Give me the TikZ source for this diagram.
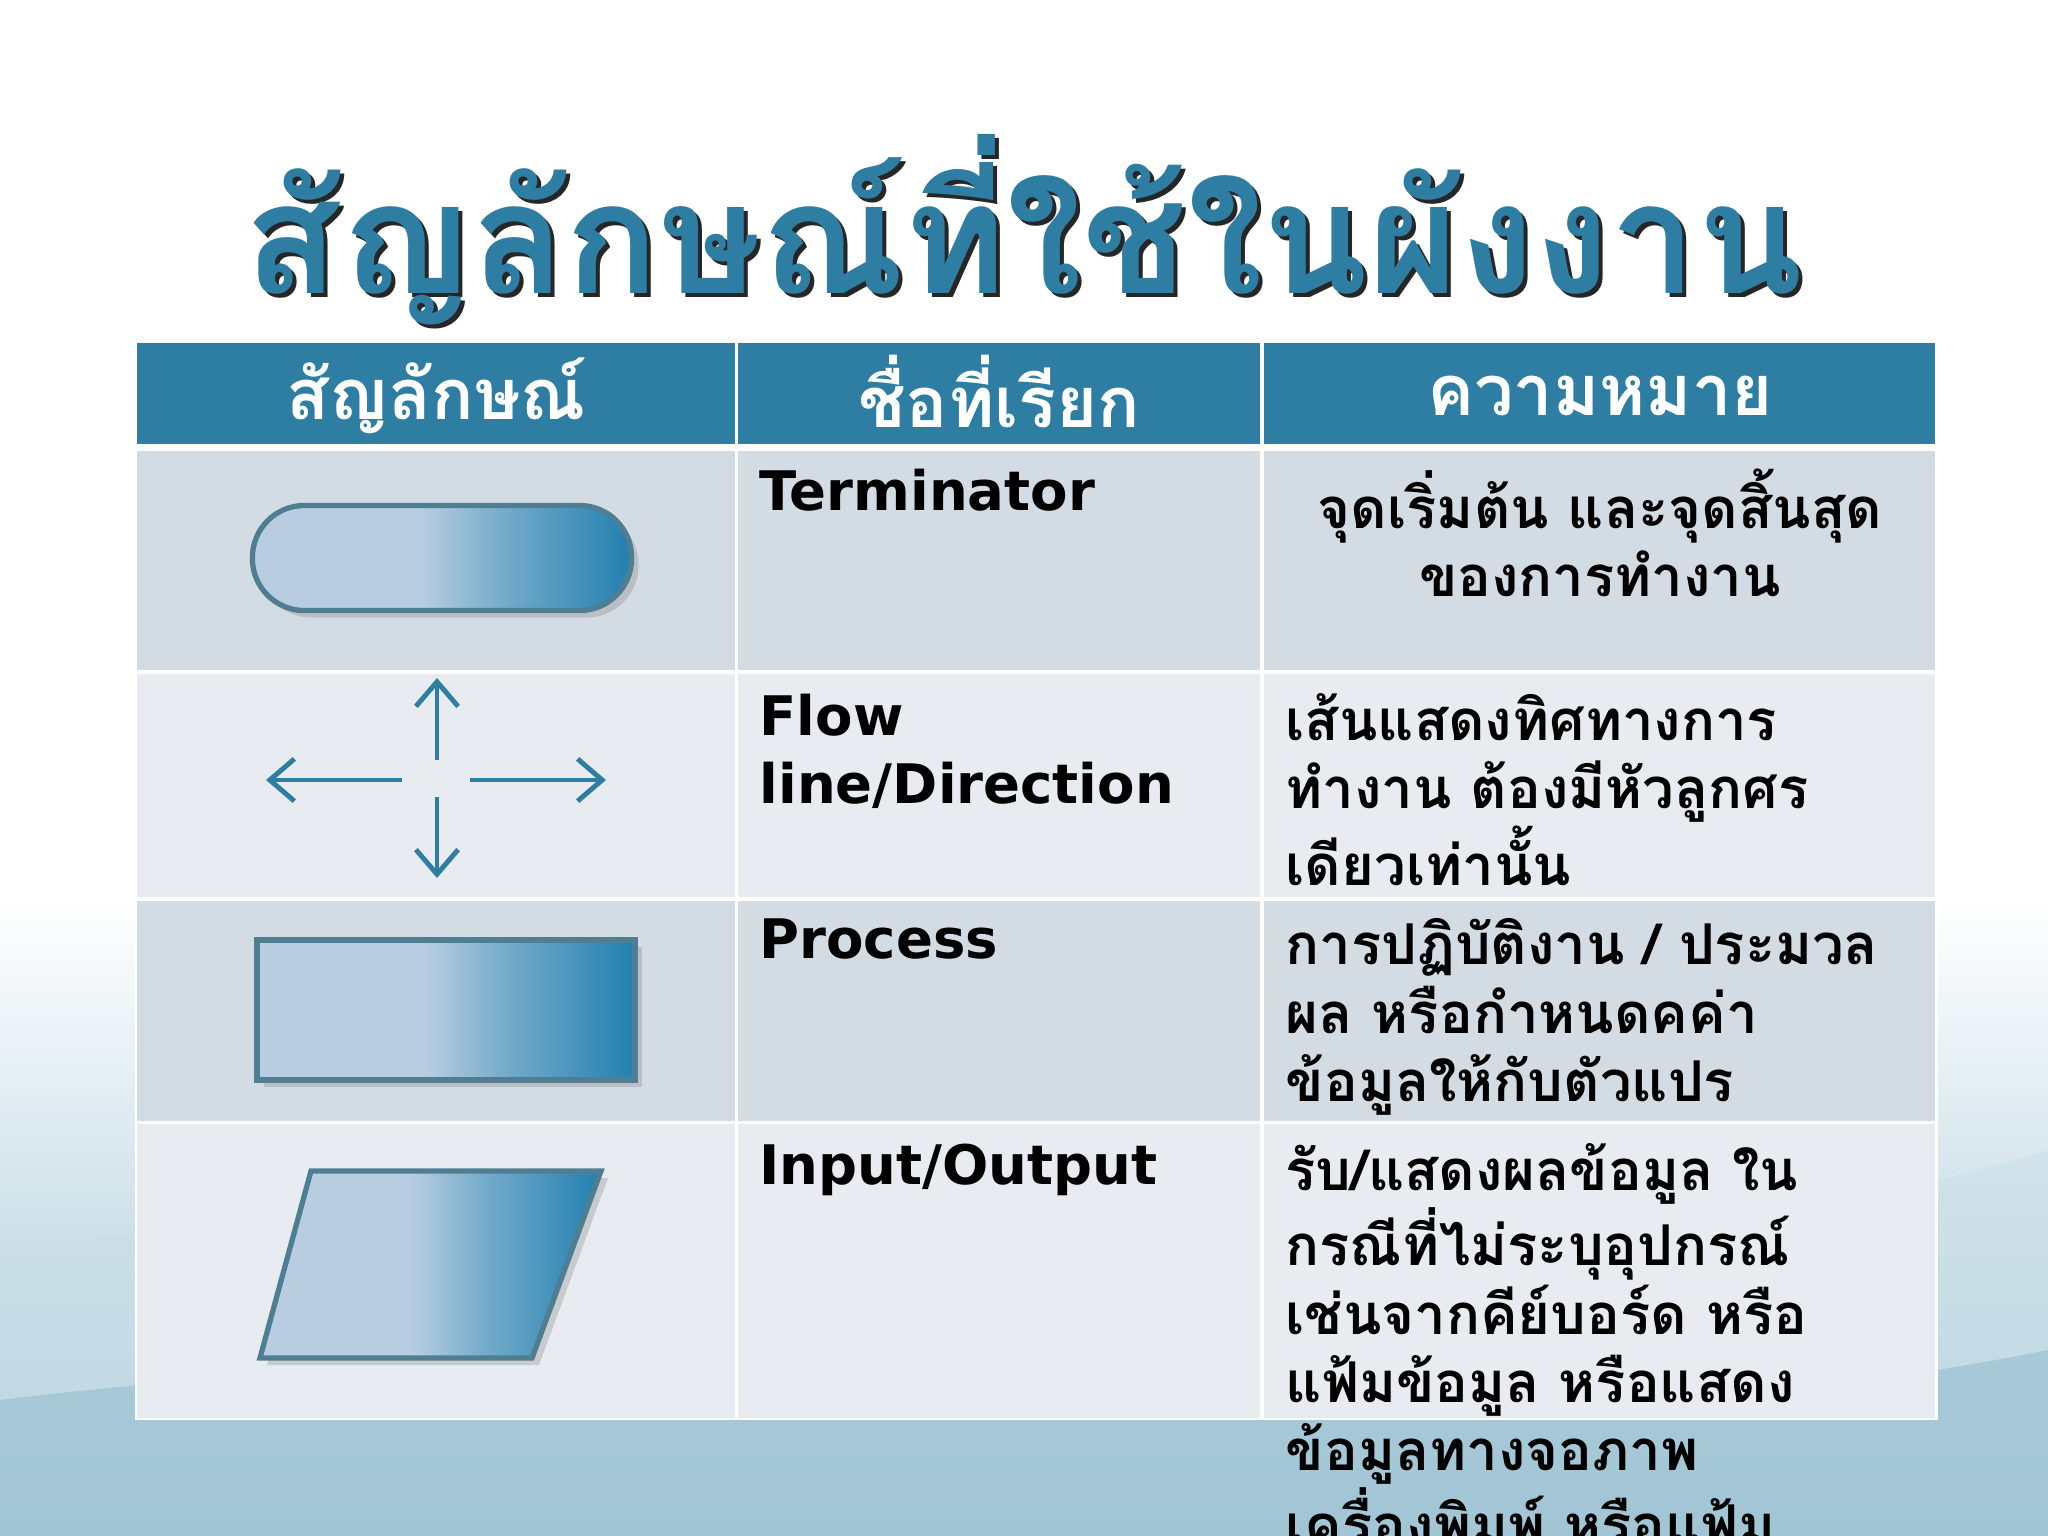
\documentclass[tikz,border=0pt]{standalone}
\usepackage{fontspec}
\setmainfont{DejaVu Sans}
\newfontfamily\thai[Script=Thai]{Loma}
\usetikzlibrary{arrows.meta,shadows}
\definecolor{hdr}{HTML}{2E7DA2}
\definecolor{rowA}{HTML}{D3DBE3}
\definecolor{rowB}{HTML}{E8ECF0}
\definecolor{shp}{HTML}{B8CEE0}
\definecolor{shpd}{HTML}{2280B0}
\definecolor{edge}{HTML}{4F7E93}
\pgfdeclarehorizontalshading{symsh}{100bp}{color(0bp)=(shp); color(25bp)=(shp); color(47bp)=(shp); color(58bp)=(shp!55!shpd); color(75bp)=(shpd); color(100bp)=(shpd)}
\tikzset{
  px/.style={x=0.01cm,y=-0.01cm},
  cell/.style={anchor=north west,inner sep=0pt,align=left,font=\fontsize{15.5pt}{19.4pt}\selectfont\bfseries},
  desc/.style={cell,font=\thai\fontsize{16pt}{19.4pt}\selectfont\bfseries},
  hd/.style={text=white,font=\thai\fontsize{20pt}{24pt}\selectfont\bfseries},
  sym/.style={draw=edge,line width=1.5pt,shading=symsh,drop shadow={shadow xshift=2pt,shadow yshift=-2pt,opacity=0.3}},
  flow/.style={draw=hdr,line width=1.4pt,-{Straight Barb[length=7pt,width=12pt]}},
  ttl/.style={font=\thai\fontsize{44pt}{50pt}\selectfont\bfseries}
}
\begin{document}
\begin{tikzpicture}[px]
\useasboundingbox (0,0) rectangle (2048,1536);
% background
\fill[white] (0,0) rectangle (2048,900);
\shade[top color=white,bottom color=hdr!45!white] (0,900) rectangle (2048,1536);
\fill[hdr!25!white,opacity=0.6] (0,1250) .. controls (700,1150) and (1400,1350) .. (2048,1150) -- (2048,1536) -- (0,1536) -- cycle;
\fill[hdr!55!white,opacity=0.5] (0,1400) .. controls (800,1300) and (1300,1500) .. (2048,1350) -- (2048,1536) -- (0,1536) -- cycle;
% title
\node[ttl,text=black!85] (tsh) at (1024+4,230+4) {สัญลักษณ์ที่ใช้ในผังงาน};
\node[ttl,text=hdr] (title) at (1024,230) {สัญลักษณ์ที่ใช้ในผังงาน};
% table
\fill[white] (135,341) rectangle (1938,1420);
\fill[hdr] (137,343) rectangle (735,444);
\fill[hdr] (738,343) rectangle (1260,444);
\fill[hdr] (1264,343) rectangle (1935,444);
\fill[rowA] (137,451) rectangle (735,670);
\fill[rowA] (738,451) rectangle (1260,670);
\fill[rowA] (1264,451) rectangle (1935,670);
\fill[rowB] (137,674) rectangle (735,897);
\fill[rowB] (738,674) rectangle (1260,897);
\fill[rowB] (1264,674) rectangle (1935,897);
\fill[rowA] (137,901) rectangle (735,1121);
\fill[rowA] (738,901) rectangle (1260,1121);
\fill[rowA] (1264,901) rectangle (1935,1121);
\fill[rowB] (137,1124) rectangle (735,1418);
\fill[rowB] (738,1124) rectangle (1260,1418);
\fill[rowB] (1264,1124) rectangle (1935,1418);
\node[hd] (h1) at (436,396) {สัญลักษณ์};
\node[hd] (h2) at (999,392) {ชื่อที่เรียก};
\node[hd] (h3) at (1600,396) {ความหมาย};
% symbols
\node[sym,rounded corners=0.52cm,minimum width=3.79cm,minimum height=1.05cm] (term) at (442,558) {};
\coordinate (u0) at (437,760); \coordinate (u1) at (437,678);
\coordinate (d0) at (437,797); \coordinate (d1) at (437,878);
\coordinate (l0) at (402,780); \coordinate (l1) at (266,780);
\coordinate (r0) at (470,780); \coordinate (r1) at (606,780);
\draw[flow] (u0) -- (u1);
\draw[flow] (d0) -- (d1);
\draw[flow] (l0) -- (l1);
\draw[flow] (r0) -- (r1);
\node[sym,minimum width=3.78cm,minimum height=1.40cm] (proc) at (446,1010) {};
\coordinate (p1) at (311,1171); \coordinate (p2) at (601,1171);
\coordinate (p3) at (532,1358); \coordinate (p4) at (260,1358);
\path[sym] (p1) -- (p2) -- (p3) -- (p4) -- cycle;
% texts col 2
\node[cell] (n1) at (759,468) {Terminator};
\node[cell] (n2) at (759,693) {Flow\\line/Direction};
\node[cell] (n3) at (759,918) {Process};
\node[cell] (n4) at (759,1143) {Input/Output};
% texts col 3
\node[desc,anchor=north,align=center] (m1) at (1600,468) {จุดเริ่มต้น และจุดสิ้นสุด\\ของการทำงาน};
\node[desc] (m2) at (1285,693) {เส้นแสดงทิศทางการ\\ทำงาน ต้องมีหัวลูกศร\\เดียวเท่านั้น};
\node[desc] (m3) at (1285,918) {การปฏิบัติงาน / ประมวล\\ผล หรือกำหนดคค่า\\ข้อมูลให้กับตัวแปร};
\node[desc] (m4) at (1285,1143) {รับ/แสดงผลข้อมูล ใน\\กรณีที่ไม่ระบุอุปกรณ์\\เช่นจากคีย์บอร์ด หรือ\\แฟ้มข้อมูล หรือแสดง\\ข้อมูลทางจอภาพ\\เครื่องพิมพ์ หรือแฟ้ม};
\end{tikzpicture}
\end{document}
